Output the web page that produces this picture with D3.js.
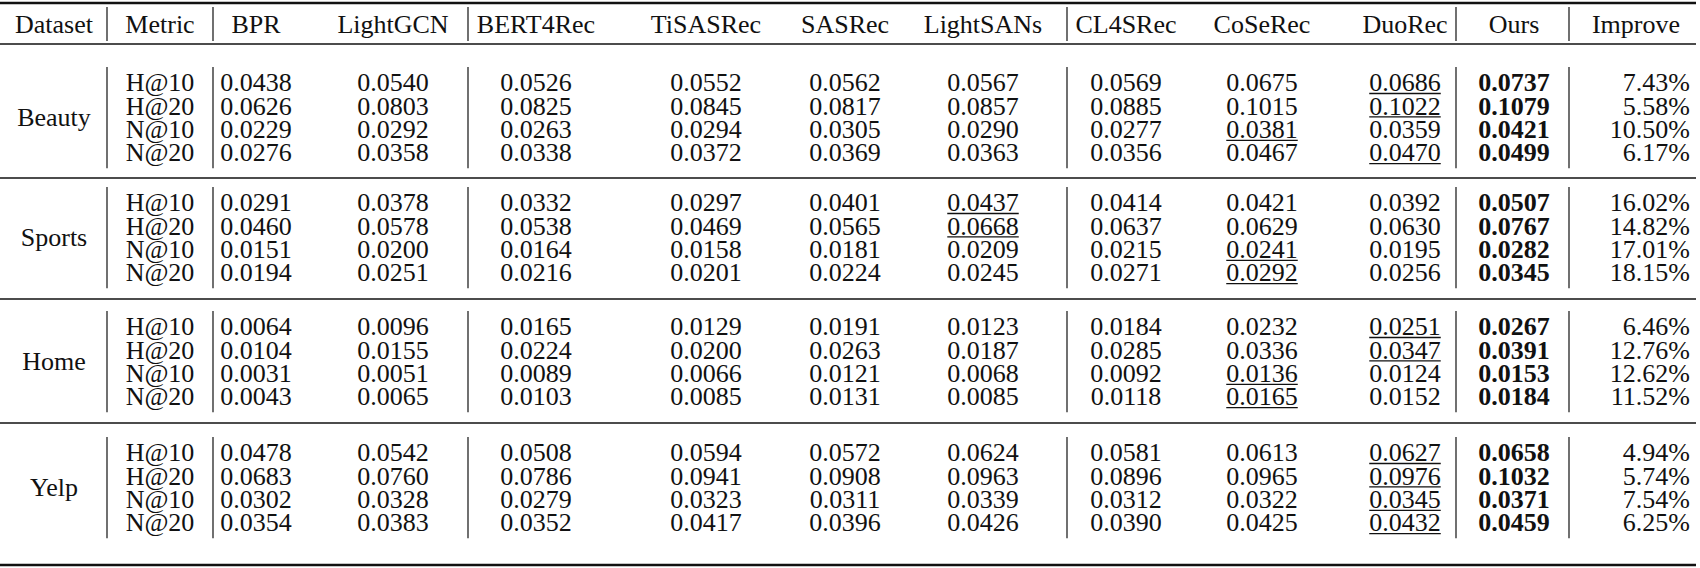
<!DOCTYPE html>
<html><head><meta charset="utf-8">
<script src="https://cdn.jsdelivr.net/npm/d3@7"></script>
<style>body{margin:0;background:#fff}svg{display:block}</style>
</head><body><div id="tbl"></div>
<script>
const datasets = ['Beauty', 'Sports', 'Home', 'Yelp'];
const metrics = ['H@10', 'H@20', 'N@10', 'N@20'];
const models = ['BPR', 'LightGCN', 'BERT4Rec', 'TiSASRec', 'SASRec', 'LightSANs', 'CL4SRec', 'CoSeRec', 'DuoRec', 'Ours'];
const values = [
  // Beauty
  ['0.0438','0.0540','0.0526','0.0552','0.0562','0.0567','0.0569','0.0675','0.0686','0.0737'],
  ['0.0626','0.0803','0.0825','0.0845','0.0817','0.0857','0.0885','0.1015','0.1022','0.1079'],
  ['0.0229','0.0292','0.0263','0.0294','0.0305','0.0290','0.0277','0.0381','0.0359','0.0421'],
  ['0.0276','0.0358','0.0338','0.0372','0.0369','0.0363','0.0356','0.0467','0.0470','0.0499'],
  // Sports
  ['0.0291','0.0378','0.0332','0.0297','0.0401','0.0437','0.0414','0.0421','0.0392','0.0507'],
  ['0.0460','0.0578','0.0538','0.0469','0.0565','0.0668','0.0637','0.0629','0.0630','0.0767'],
  ['0.0151','0.0200','0.0164','0.0158','0.0181','0.0209','0.0215','0.0241','0.0195','0.0282'],
  ['0.0194','0.0251','0.0216','0.0201','0.0224','0.0245','0.0271','0.0292','0.0256','0.0345'],
  // Home
  ['0.0064','0.0096','0.0165','0.0129','0.0191','0.0123','0.0184','0.0232','0.0251','0.0267'],
  ['0.0104','0.0155','0.0224','0.0200','0.0263','0.0187','0.0285','0.0336','0.0347','0.0391'],
  ['0.0031','0.0051','0.0089','0.0066','0.0121','0.0068','0.0092','0.0136','0.0124','0.0153'],
  ['0.0043','0.0065','0.0103','0.0085','0.0131','0.0085','0.0118','0.0165','0.0152','0.0184'],
  // Yelp
  ['0.0478','0.0542','0.0508','0.0594','0.0572','0.0624','0.0581','0.0613','0.0627','0.0658'],
  ['0.0683','0.0760','0.0786','0.0941','0.0908','0.0963','0.0896','0.0965','0.0976','0.1032'],
  ['0.0302','0.0328','0.0279','0.0323','0.0311','0.0339','0.0312','0.0322','0.0345','0.0371'],
  ['0.0354','0.0383','0.0352','0.0417','0.0396','0.0426','0.0390','0.0425','0.0432','0.0459']
];
// second-best (underlined) model per row
const underlined = ['DuoRec','DuoRec','CoSeRec','DuoRec', 'LightSANs','LightSANs','CoSeRec','CoSeRec',
                    'DuoRec','DuoRec','CoSeRec','CoSeRec', 'DuoRec','DuoRec','DuoRec','DuoRec'];
const improve = ['7.43%','5.58%','10.50%','6.17%', '16.02%','14.82%','17.01%','18.15%',
                 '6.46%','12.76%','12.62%','11.52%', '4.94%','5.74%','7.54%','6.25%'];

const W = 1700, H = 568, FS = 26;
const svg = d3.select('#tbl').append('svg').attr('width', W).attr('height', H)
  .attr('font-family', '"Liberation Serif", "Times New Roman", "DejaVu Serif", serif')
  .attr('fill', '#111');

const cols = ['Dataset', 'Metric', ...models, 'Improve'];
const x = d3.scaleOrdinal().domain(cols)
  .range([54, 160, 256, 393, 536, 706, 845, 983, 1126, 1262, 1405, 1514, 1636]);
const sep = d3.scaleOrdinal().domain(['Dataset','Metric','LightGCN','LightSANs','DuoRec','Ours'])
  .range([107, 213, 468, 1067, 1456, 1569]);
const sepCols = sep.domain();

// vertical layout
const groupTop = d3.scaleOrdinal().domain(datasets).range([82, 202, 326, 452]);
const rowY = (g, i) => groupTop(datasets[g]) + i * 23.4;
const rules = [{y: 3, w: 2.6}, {y: 44, w: 1.6}, {y: 178, w: 1.6}, {y: 299, w: 1.6}, {y: 423, w: 1.6}, {y: 565, w: 2.6}];

svg.selectAll('line.rule').data(rules).join('line').attr('class','rule')
  .attr('x1', 0).attr('x2', W - 4).attr('y1', d => d.y).attr('y2', d => d.y)
  .attr('stroke', '#111').attr('stroke-width', d => d.w);

// header
const hy = 24;
svg.selectAll('text.hdr').data(cols).join('text').attr('class','hdr')
  .attr('x', d => x(d)).attr('y', hy).attr('dy', '0.35em')
  .attr('text-anchor', 'middle').attr('font-size', FS).text(d => d);
svg.selectAll('line.hsep').data(sepCols).join('line').attr('class','hsep')
  .attr('x1', d => sep(d)).attr('x2', d => sep(d)).attr('y1', 7).attr('y2', 41)
  .attr('stroke', '#111').attr('stroke-width', 1.2);

datasets.forEach((ds, g) => {
  const gg = svg.append('g');
  const y0 = rowY(g, 0), y3 = rowY(g, 3);
  gg.append('text').attr('x', x('Dataset')).attr('y', (y0 + y3) / 2).attr('dy', '0.35em')
    .attr('text-anchor', 'middle').attr('font-size', FS).text(ds);
  gg.selectAll('line.vs').data(sepCols).join('line')
    .attr('x1', d => sep(d)).attr('x2', d => sep(d)).attr('y1', y0 - 15).attr('y2', y3 + 16)
    .attr('stroke', '#111').attr('stroke-width', 1.2);
  metrics.forEach((m, i) => {
    const r = g * 4 + i, y = rowY(g, i);
    gg.append('text').attr('x', x('Metric')).attr('y', y).attr('dy', '0.35em')
      .attr('text-anchor', 'middle').attr('font-size', FS).text(m);
    models.forEach((mod, j) => {
      const t = gg.append('text').attr('x', x(mod)).attr('y', y).attr('dy', '0.35em')
        .attr('text-anchor', 'middle').attr('font-size', FS)
        .attr('font-weight', mod === 'Ours' ? 'bold' : null).text(values[r][j]);
      if (underlined[r] === mod) {
        const bb = t.node().getBBox();
        gg.append('line').attr('x1', bb.x).attr('x2', bb.x + bb.width)
          .attr('y1', y + 11.5).attr('y2', y + 11.5).attr('stroke', '#111').attr('stroke-width', 1.3);
      }
    });
    gg.append('text').attr('x', 1690).attr('y', y).attr('dy', '0.35em')
      .attr('text-anchor', 'end').attr('font-size', FS).text(improve[r]);
  });
});
</script></body></html>
